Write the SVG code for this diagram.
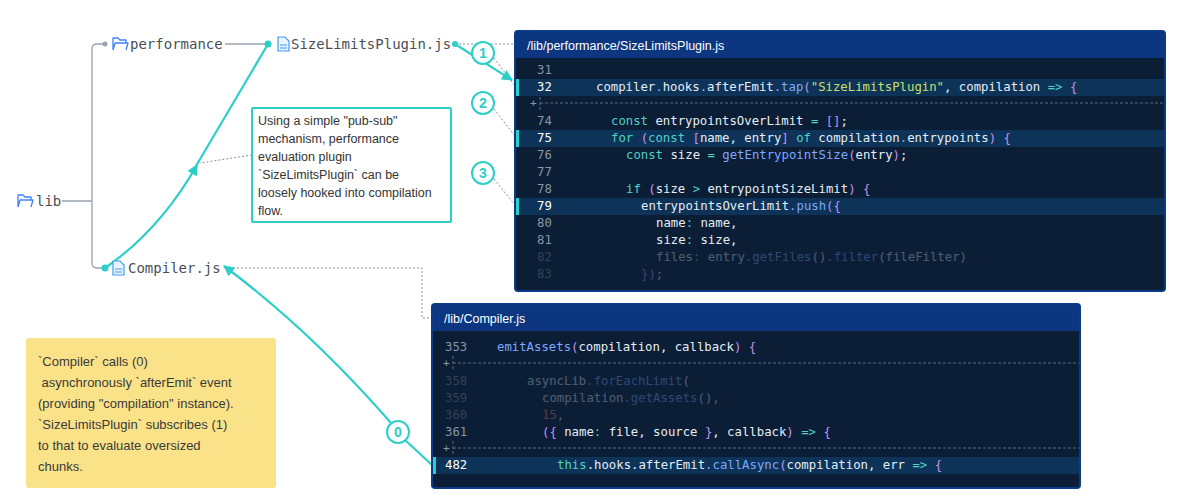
<svg xmlns="http://www.w3.org/2000/svg" width="1180" height="504" viewBox="0 0 1180 504">
<style>
.tree{font-family:"DejaVu Sans Mono",monospace;font-size:14px;fill:#4a4f57}
.br{stroke:#9aa3ad;stroke-width:1.3;fill:none}
.dot{stroke:#8a8f96;stroke-width:1;fill:none;stroke-dasharray:2 2}
.teal{stroke:#2ccfc8;stroke-width:2.2;fill:none}
.circ{fill:#fff;stroke:#2ccfc8;stroke-width:2}
.cnum{font-family:"Liberation Sans",sans-serif;font-size:14px;font-weight:bold;fill:#2ccfc8;text-anchor:middle}
.note{font-family:"Liberation Sans",sans-serif;font-size:12.5px;fill:#333}
.ynote{font-family:"Liberation Sans",sans-serif;font-size:13px;fill:#3a3a3a}
.code{font-family:"DejaVu Sans Mono",monospace;font-size:12.3px;fill:#e6edf5}
.ln{font-family:"DejaVu Sans Mono",monospace;font-size:12.3px;fill:#8796a8}
.hdr{font-family:"Liberation Sans",sans-serif;font-size:12.5px;fill:#fff}
.k{fill:#4fd1c5}.f{fill:#7fa8ff}.s{fill:#c8e06a}.p{fill:#c792ea}
.dim{opacity:0.3}
.sep{stroke:#5a6b80;stroke-width:1;stroke-dasharray:3 2}
.fold{stroke:#3b82f6;stroke-width:1.3;fill:none;stroke-linejoin:round}
.plus{font-family:"DejaVu Sans Mono",monospace;font-size:11px;fill:#8796a8}
</style>
<defs>
<marker id="ah" viewBox="0 0 10 10" refX="9" refY="5" markerWidth="5" markerHeight="5" orient="auto-start-reverse"><path d="M0,0 L10,5 L0,10 z" fill="#2ccfc8"/></marker>
</defs>
<rect width="1180" height="504" fill="#fff"/>

<g id="connectors">
<path class="br" d="M62,201 H92 M105,44 H97 Q92,44 92,49 V263 Q92,268 97,268 H105"/>
<path class="br" d="M225,44 H268"/>
<path class="dot" d="M455,44 H515"/>
<path class="dot" d="M225,268 H422 V318 H432"/>
<path class="dot" d="M252,155 L200,163"/>
<path class="dot" d="M494,58 L515,86"/>
<path class="dot" d="M494,109 L515,136"/>
<path class="dot" d="M494,179 L515,205"/>
<path class="teal" d="M105,268 Q160,230 197,165" marker-end="url(#ah)"/>
<path class="teal" d="M196,166 Q235,100 268,44"/>
<path class="teal" d="M455,44 L512,80" marker-end="url(#ah)"/>
<path class="teal" d="M432,465 L405,440 M391,423 Q310,330 224,266" marker-end="url(#ah)"/>
<circle cx="105" cy="44" r="2.5" fill="#9aa3ad"/>
<circle cx="268" cy="44" r="3.5" fill="#2ccfc8"/>
<circle cx="455" cy="44" r="3" fill="#2ccfc8"/>
<circle cx="105" cy="268" r="3.5" fill="#2ccfc8"/>
</g>

<g id="lib">
<path class="fold" d="M18,207 V195 H23 L25,197 H31 V200 M18,207 L20,200 H33 L31,207"/>
<text class="tree" x="36" y="206">lib</text>
</g>
<g id="performance">
<path class="fold" d="M113,50 V38 H118 L120,40 H126 V43 M113,50 L115,43 H128 L126,50"/>
<text class="tree" x="130" y="49">performance</text>
</g>
<g id="sizelimits">
<path d="M278,37 H285 L289,41 V51 H278 Z" fill="#eaf3ff" stroke="#3b9ef0" stroke-width="1.2"/><path d="M280,45 H287 M280,48 H287" stroke="#3b9ef0" stroke-width="1.2"/>
<text class="tree" x="291" y="49">SizeLimitsPlugin.js</text>
</g>
<g id="compiler">
<path d="M113,261 H120 L124,265 V275 H113 Z" fill="#eaf3ff" stroke="#3b9ef0" stroke-width="1.2"/><path d="M115,269 H122 M115,272 H122" stroke="#3b9ef0" stroke-width="1.2"/>
<text class="tree" x="128" y="273">Compiler.js</text>
</g>

<g id="c1"><circle class="circ" cx="483" cy="53" r="11"/><text class="cnum" x="483" y="58">1</text></g>
<g id="c2"><circle class="circ" cx="483" cy="103" r="11"/><text class="cnum" x="483" y="108">2</text></g>
<g id="c3"><circle class="circ" cx="483" cy="173" r="11"/><text class="cnum" x="483" y="178">3</text></g>
<g id="c0"><circle class="circ" cx="398" cy="432" r="11"/><text class="cnum" x="398" y="437">0</text></g>

<g id="note">
<rect x="252" y="108" width="199" height="114" fill="#fff" stroke="#2ccfc8" stroke-width="2" rx="1"/>
<text class="note"><tspan x="258" y="125">Using a simple "pub-sub"</tspan><tspan x="258" y="143">mechanism, performance</tspan><tspan x="258" y="161">evaluation plugin</tspan><tspan x="258" y="179">`SizeLimitsPlugin` can be</tspan><tspan x="258" y="197">loosely hooked into compilation</tspan><tspan x="258" y="215">flow.</tspan></text>
</g>

<g id="ynote">
<rect x="26" y="338" width="250" height="150" rx="3" fill="#fae289"/>
<text class="ynote"><tspan x="38" y="366">`Compiler` calls (0)</tspan><tspan x="38" y="387"> asynchronously `afterEmit` event</tspan><tspan x="38" y="408">(providing "compilation" instance).</tspan><tspan x="38" y="429">`SizeLimitsPlugin` subscribes (1)</tspan><tspan x="38" y="450">to that to evaluate oversized</tspan><tspan x="38" y="471">chunks.</tspan></text>
</g>

<g id="panel1">
<rect x="515" y="31" width="650" height="260" rx="3" fill="#0b1e36" stroke="#0b3a8a" stroke-width="2"/>
<path d="M516,58 V34 Q516,32 518,32 H1162 Q1164,32 1164,34 V58 Z" fill="#0c3680"/>
<text class="hdr" x="527" y="50">/lib/performance/SizeLimitsPlugin.js</text>
<rect x="516" y="79" width="648" height="17" fill="#0e3358"/><rect x="516" y="79" width="3" height="17" fill="#2ccfc8"/>
<rect x="516" y="130" width="648" height="17" fill="#0e3358"/><rect x="516" y="130" width="3" height="17" fill="#2ccfc8"/>
<rect x="516" y="198" width="648" height="17" fill="#0e3358"/><rect x="516" y="198" width="3" height="17" fill="#2ccfc8"/>
<line class="sep" x1="540" y1="103" x2="1164" y2="103"/><line class="sep" x1="540" y1="97" x2="540" y2="111"/>
<text class="plus" x="530" y="107">+</text>
<text class="ln" x="537" y="74">31</text><text class="ln" x="537" y="91" style="fill:#fff">32</text><text class="ln" x="537" y="125">74</text><text class="ln" x="537" y="142" style="fill:#fff">75</text><text class="ln" x="537" y="159">76</text><text class="ln" x="537" y="176">77</text><text class="ln" x="537" y="193">78</text><text class="ln" x="537" y="210" style="fill:#fff">79</text><text class="ln" x="537" y="227">80</text><text class="ln" x="537" y="244">81</text><text class="ln dim" x="537" y="261">82</text><text class="ln dim" x="537" y="278">83</text>
<text class="code" x="596" y="91">compiler<tspan class="f">.</tspan>hooks<tspan class="f">.</tspan>afterEmit<tspan class="f">.tap</tspan><tspan class="p">(</tspan><tspan class="s">"SizeLimitsPlugin"</tspan>, compilation <tspan class="k">=&gt;</tspan> <tspan class="p">{</tspan></text>
<text class="code" x="611" y="125"><tspan class="k">const</tspan> entrypointsOverLimit <tspan class="k">=</tspan> <tspan class="p">[]</tspan>;</text>
<text class="code" x="611" y="142"><tspan class="k">for</tspan> <tspan class="p">(</tspan><tspan class="k">const</tspan> <tspan class="p">[</tspan>name, entry<tspan class="p">]</tspan> <tspan class="k">of</tspan> compilation<tspan class="f">.</tspan>entrypoints<tspan class="p">)</tspan> <tspan class="p">{</tspan></text>
<text class="code" x="626" y="159"><tspan class="k">const</tspan> size <tspan class="k">=</tspan> <tspan class="f">getEntrypointSize</tspan><tspan class="p">(</tspan>entry<tspan class="p">)</tspan>;</text>
<text class="code" x="626" y="193"><tspan class="k">if</tspan> <tspan class="p">(</tspan>size <tspan class="k">&gt;</tspan> entrypointSizeLimit<tspan class="p">)</tspan> <tspan class="p">{</tspan></text>
<text class="code" x="641" y="210">entrypointsOverLimit<tspan class="f">.push</tspan><tspan class="p">({</tspan></text>
<text class="code" x="656" y="227">name<tspan class="k">:</tspan> name,</text>
<text class="code" x="656" y="244">size<tspan class="k">:</tspan> size,</text>
<text class="code dim" x="656" y="261">files<tspan class="k">:</tspan> entry<tspan class="f">.getFiles</tspan>()<tspan class="f">.filter</tspan>(fileFilter)</text>
<text class="code dim" x="641" y="278"><tspan class="p">})</tspan>;</text>
</g>

<g id="panel2">
<rect x="432" y="304" width="648" height="184" rx="3" fill="#0b1e36" stroke="#0b3a8a" stroke-width="2"/>
<path d="M433,331 V307 Q433,305 435,305 H1077 Q1079,305 1079,307 V331 Z" fill="#0c3680"/>
<text class="hdr" x="444" y="323">/lib/Compiler.js</text>
<rect x="433" y="457" width="646" height="17" fill="#0e3358"/><rect x="433" y="457" width="3" height="17" fill="#2ccfc8"/>
<line class="sep" x1="453" y1="363" x2="1079" y2="363"/><line class="sep" x1="453" y1="356" x2="453" y2="370"/>
<line class="sep" x1="453" y1="448" x2="1079" y2="448"/><line class="sep" x1="453" y1="441" x2="453" y2="455"/>
<text class="plus" x="443" y="367">+</text><text class="plus" x="443" y="452">+</text>
<text class="ln" x="445" y="351">353</text><text class="ln dim" x="445" y="385">358</text><text class="ln dim" x="445" y="402">359</text><text class="ln dim" x="445" y="419">360</text><text class="ln" x="445" y="436">361</text><text class="ln" x="445" y="469" style="fill:#fff">482</text>
<text class="code" x="497" y="351"><tspan class="f">emitAssets</tspan><tspan class="p">(</tspan>compilation, callback<tspan class="p">)</tspan> <tspan class="p">{</tspan></text>
<text class="code dim" x="527" y="385">asyncLib<tspan class="f">.forEachLimit</tspan>(</text>
<text class="code dim" x="542" y="402">compilation<tspan class="f">.getAssets</tspan>(),</text>
<text class="code dim" x="542" y="419" style="fill:#f08a6a">15<tspan style="fill:#e6edf5">,</tspan></text>
<text class="code" x="542" y="436"><tspan class="p">({</tspan> name<tspan class="k">:</tspan> file, source <tspan class="p">}</tspan>, callback<tspan class="p">)</tspan> <tspan class="k">=&gt;</tspan> <tspan class="p">{</tspan></text>
<text class="code" x="557" y="469"><tspan class="k">this</tspan>.hooks.afterEmit<tspan class="f">.callAsync</tspan><tspan class="p">(</tspan>compilation, err <tspan class="k">=&gt;</tspan> <tspan class="p">{</tspan></text>
</g>
</svg>
